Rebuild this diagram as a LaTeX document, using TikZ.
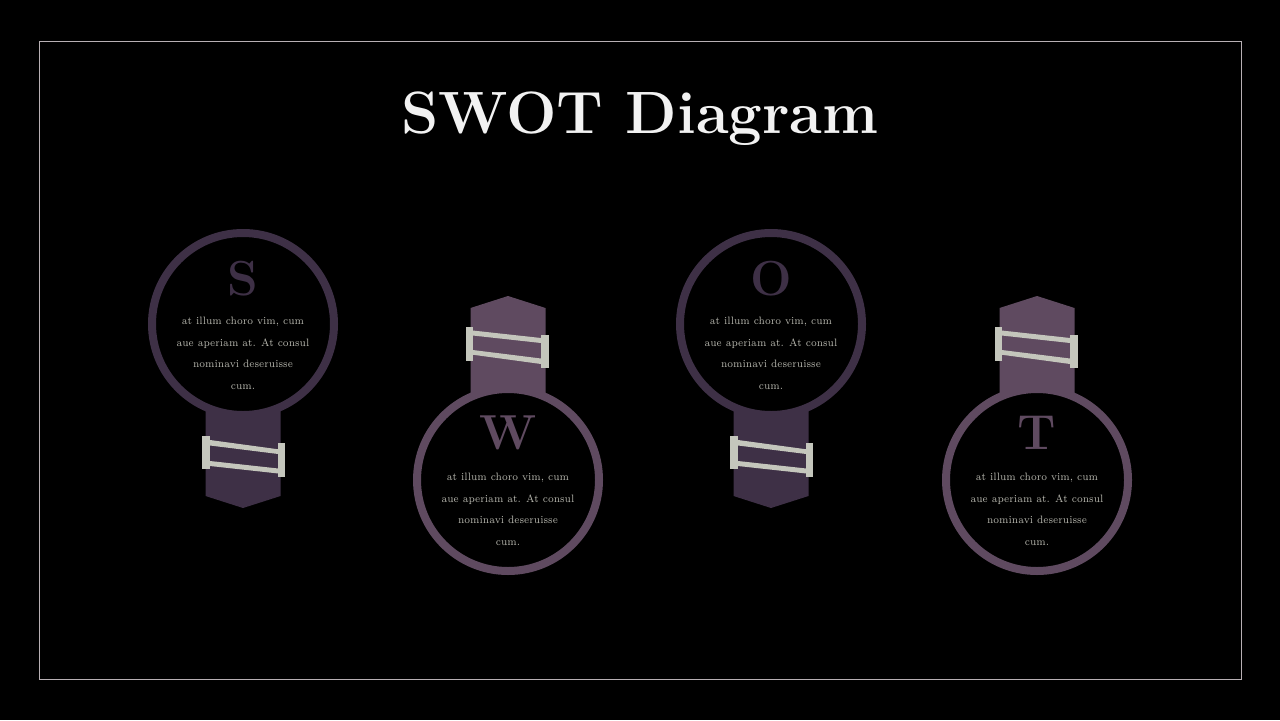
\documentclass[tikz,border=0pt]{standalone}
\usepackage{fontspec}

\definecolor{darkplum}{HTML}{3E3046}
\definecolor{lightplum}{HTML}{5F4A60}
\definecolor{buckle}{HTML}{C4C6BC}
\definecolor{bodytext}{HTML}{B9B9B0}
\definecolor{framegray}{HTML}{B8B0B4}

\tikzset{
	ring/.style = {line width = 0.16cm},
	letter/.style = {font=\fontsize{28}{28}\selectfont\bfseries},
	blurb/.style = {text=bodytext, align=center, inner sep=0pt, xscale=0.88,
		font=\fontsize{6.1}{12.3}\selectfont},
	pics/swottag/.style = {code={
		% tab with pointed end
		\fill[#1] (-37.5,60) -- (37.5,60) -- (37.5,172) -- (0,184) -- (-37.5,172) -- cycle;
		% buckle
		\fill[buckle] (-40.7,111.7) rectangle (-33,145.3);
		\fill[buckle] (35.3,118.7) rectangle (42,152.7);
		\fill[buckle] (-33,116) -- (35.3,125.3) -- (35.3,130) -- (-33,121.5) -- cycle;
		\fill[buckle] (-33,137) -- (35.3,144.5) -- (35.3,149.5) -- (-33,142) -- cycle;
		% ring
		\fill[black] (0,0) circle (91);
		\draw[ring, #1] (0,0) circle (91);
	}}
}

\begin{document}
\begin{tikzpicture}[x=0.02cm, y=-0.02cm]
	
	\fill[black] (0,0) rectangle (1280,720);
	\useasboundingbox (0,0) rectangle (1280,720);
	
	\draw[framegray, line width = 0.02cm] (39.5,41.5) rectangle (1241.5,679);
	
	\node[anchor=base, text=white!95!black, font=\fontsize{34}{34}\selectfont\bfseries] (title) at (640,133) {SWOT Diagram};
	
	% tags
	\pic at (243,324) {swottag=darkplum};
	\pic[rotate=180] at (508,480) {swottag=lightplum};
	\pic at (771,324) {swottag=darkplum};
	\pic[rotate=180] at (1037,480) {swottag=lightplum};
	
	% letters
	\node[letter, text=darkplum] (S) at (243,279) {S};
	\node[letter, text=lightplum] (W) at (508,433) {W};
	\node[letter, text=darkplum] (O) at (771,279) {O};
	\node[letter, text=lightplum] (T) at (1037,433) {T};
	
	% texts
	\node[blurb] (textS) at (243,353.5) {at illum choro vim, cum\\aue aperiam at. At consul\\nominavi deseruisse\\cum.};
	\node[blurb] (textW) at (508,509.5) {at illum choro vim, cum\\aue aperiam at. At consul\\nominavi deseruisse\\cum.};
	\node[blurb] (textO) at (771,353.5) {at illum choro vim, cum\\aue aperiam at. At consul\\nominavi deseruisse\\cum.};
	\node[blurb] (textT) at (1037,509.5) {at illum choro vim, cum\\aue aperiam at. At consul\\nominavi deseruisse\\cum.};
	
\end{tikzpicture}
\end{document}
